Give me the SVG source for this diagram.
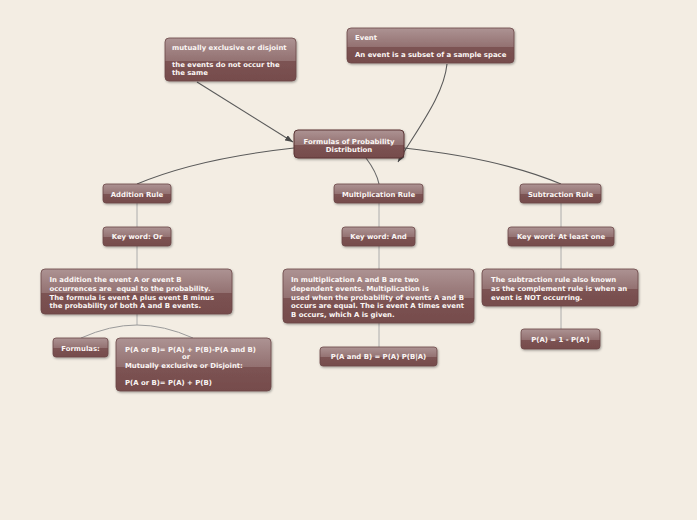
<svg xmlns="http://www.w3.org/2000/svg" width="697" height="520" viewBox="0 0 697 520">
<defs>
<linearGradient id="gloss" x1="0" y1="0" x2="0" y2="1">
<stop offset="0" stop-color="#ad9393"/>
<stop offset="0.54" stop-color="#937171"/>
<stop offset="0.54" stop-color="#7c5353"/>
<stop offset="1" stop-color="#764c4c"/>
</linearGradient>
<filter id="sh" x="-10%" y="-20%" width="120%" height="150%">
<feDropShadow dx="0.8" dy="1.2" stdDeviation="0.9" flood-color="#000" flood-opacity="0.35"/>
</filter>
<marker id="arr" viewBox="0 0 8 6" refX="8" refY="3" markerWidth="8" markerHeight="6" markerUnits="userSpaceOnUse" orient="auto">
<path d="M0,0 L8,3 L0,6 z" fill="#4a4a4a"/>
</marker>
<style>
.n{fill:url(#gloss);stroke:#6b4646;stroke-width:0.8;filter:url(#sh)}
.t{font-family:"DejaVu Sans",Verdana,sans-serif;font-weight:bold;font-size:6.9px;fill:#fbf6f4}
.c{text-anchor:middle}
.e{fill:none;stroke:#5a5a5a;stroke-width:1.1}
.v{fill:none;stroke:#acacac;stroke-width:1}
.a{fill:none;stroke:#9a9a9a;stroke-width:1}
</style>
</defs>
<rect width="697" height="520" fill="#f3ede3"/>
<g id="connectors">
<path class="e" d="M197,82 L293,142" marker-end="url(#arr)"/>
<path class="e" d="M447,64 C444,95 418,128 398,162" marker-end="url(#arr)"/>
<path class="e" d="M294,148 C230,155 175,168 137,184"/>
<path class="e" d="M404,148 C468,155 523,168 561,184"/>
<path class="e" d="M366,158 C372,166 377,174 379,184" style="stroke:#6a6a6a"/>
<path class="v" d="M137,203 V227 M137,246 V269 M137,314 V325"/>
<path class="a" d="M81,338 Q110,325 137,325 Q164,325 193,338"/>
<path class="v" d="M379,203 V227 M379,246 V269 M379,323 V347"/>
<path class="v" d="M561,203 V227 M561,246 V269 M561,306 V329"/>
</g>
<g id="n_mutex"><rect class="n" x="165" y="38" width="131" height="43" rx="4"/>
<text class="t" x="172" y="50">mutually exclusive or disjoint</text>
<text class="t" x="172" y="67">the events do not occur the</text>
<text class="t" x="172" y="75">the same</text></g>
<g id="n_event"><rect class="n" x="347" y="28" width="167" height="35" rx="4"/>
<text class="t" x="355" y="40">Event</text>
<text class="t" x="355" y="57">An event is a subset of a sample space</text></g>
<g id="n_central"><rect class="n" x="294" y="130" width="110" height="28" rx="4" style="stroke:#5a3434;stroke-width:1"/>
<text class="t c" x="349" y="143.5">Formulas of Probability</text>
<text class="t c" x="349" y="151.5">Distribution</text></g>
<g id="n_add"><rect class="n" x="103" y="184" width="68" height="19" rx="3"/>
<text class="t c" x="137" y="196.5">Addition Rule</text></g>
<g id="n_kw_or"><rect class="n" x="103" y="227" width="68" height="19" rx="3"/>
<text class="t c" x="137" y="239">Key word: Or</text></g>
<g id="n_add_text"><rect class="n" x="41" y="269" width="191" height="45" rx="4"/>
<text class="t" x="49.5" y="282">In addition the event A or event B</text>
<text class="t" x="49.5" y="291">occurrences are&#160; equal to the probability.</text>
<text class="t" x="49.5" y="299.5">The formula is event A plus event B minus</text>
<text class="t" x="49.5" y="308">the probability of both A and B events.</text></g>
<g id="n_formulas"><rect class="n" x="53" y="338" width="55" height="19" rx="3"/>
<text class="t c" x="80.5" y="351">Formulas:</text></g>
<g id="n_formula_box"><rect class="n" x="116" y="338" width="155" height="53" rx="4"/>
<text class="t" x="125" y="351.5">P(A or B)= P(A) + P(B)-P(A and B)</text>
<text class="t c" x="186" y="359.3">or</text>
<text class="t" x="125" y="367.5">Mutually exclusive or Disjoint:</text>
<text class="t" x="125" y="384.8">P(A or B)= P(A) + P(B)</text></g>
<g id="n_mult"><rect class="n" x="334" y="184" width="89" height="19" rx="3"/>
<text class="t c" x="378.5" y="196.8">Multiplication Rule</text></g>
<g id="n_kw_and"><rect class="n" x="342" y="227" width="73" height="19" rx="3"/>
<text class="t c" x="378.5" y="239">Key word: And</text></g>
<g id="n_mult_text"><rect class="n" x="283" y="269" width="191" height="54" rx="4"/>
<text class="t" x="291" y="282">In multiplication A and B are two</text>
<text class="t" x="291" y="291">dependent events. Multiplication is</text>
<text class="t" x="291" y="299.5">used when the probability of events A and B</text>
<text class="t" x="291" y="308">occurs are equal. The is event A times event</text>
<text class="t" x="291" y="316.5">B occurs, which A is given.</text></g>
<g id="n_mult_formula"><rect class="n" x="320" y="347" width="117" height="19" rx="3"/>
<text class="t c" x="378.5" y="359.2">P(A and B) = P(A) P(B|A)</text></g>
<g id="n_sub"><rect class="n" x="520" y="184" width="81" height="19" rx="3"/>
<text class="t c" x="560.5" y="196.8">Subtraction Rule</text></g>
<g id="n_kw_one"><rect class="n" x="508" y="227" width="106" height="19" rx="3"/>
<text class="t c" x="561" y="239">Key word: At least one</text></g>
<g id="n_sub_text"><rect class="n" x="482" y="269" width="156" height="37" rx="4"/>
<text class="t" x="491" y="282">The subtraction rule also known</text>
<text class="t" x="491" y="291">as the complement rule is when an</text>
<text class="t" x="491" y="299.5">event is NOT occurring.</text></g>
<g id="n_sub_formula"><rect class="n" x="521" y="329" width="79" height="20" rx="3"/>
<text class="t c" x="560.5" y="341.5">P(A) = 1 - P(A')</text></g>
</svg>
